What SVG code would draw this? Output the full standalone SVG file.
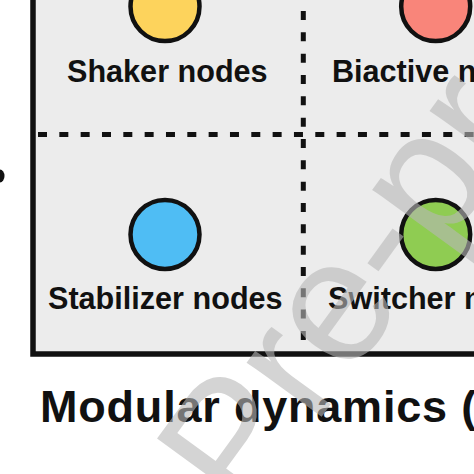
<svg xmlns="http://www.w3.org/2000/svg" width="474" height="474" viewBox="0 0 474 474">
<style>
.lbl{font-family:"Liberation Sans",Arial,sans-serif;font-weight:bold;font-size:30.6px;fill:#111}
.ttl{font-family:"Liberation Sans",Arial,sans-serif;font-weight:bold;font-size:45px;fill:#111;letter-spacing:0.8px}
.node{stroke:#111;stroke-width:4.5}
.dash{stroke:#111;stroke-width:5;fill:none;stroke-dasharray:9 12.33}
.wm{font-family:"Liberation Sans",Arial,sans-serif;font-size:175px;fill:#b8b8b8;opacity:0.6}
</style>
<rect width="474" height="474" fill="#ffffff"/>
<g id="panel">
<rect x="33" y="0" width="441" height="354" fill="#ececec"/>
</g>
<g id="connectors">
<line class="dash" x1="38" y1="134.5" x2="474" y2="134.5"/>
<line class="dash" x1="303.3" y1="-10.33" x2="303.3" y2="340"/>
</g>
<g id="axes">
<path d="M33 0 V354 H474" fill="none" stroke="#111" stroke-width="5.5"/>
<ellipse cx="0" cy="176" rx="4.5" ry="6.5" fill="#111"/>
</g>
<g id="node-shaker">
<circle class="node" cx="165" cy="6.6" r="34.5" fill="#fdd35c"/>
<text class="lbl" x="67" y="82">Shaker nodes</text>
</g>
<g id="node-biactive">
<circle class="node" cx="435.7" cy="6.6" r="34.5" fill="#f9857a"/>
<text class="lbl" x="332" y="82">Biactive nodes</text>
</g>
<g id="node-stabilizer">
<circle class="node" cx="165" cy="234.5" r="34.5" fill="#4fbdf4"/>
<text class="lbl" x="48" y="309">Stabilizer nodes</text>
</g>
<g id="node-switcher">
<circle class="node" cx="435.7" cy="234.5" r="34.5" fill="#8fcc52"/>
<text class="lbl" x="328" y="309">Switcher nodes</text>
</g>
<g id="title">
<text class="ttl" x="40" y="421.5">Modular dynamics (</text>
</g>
<g id="watermark">
<text class="wm" transform="translate(246,521) rotate(-54)">Pre-proof</text>
</g>
</svg>
